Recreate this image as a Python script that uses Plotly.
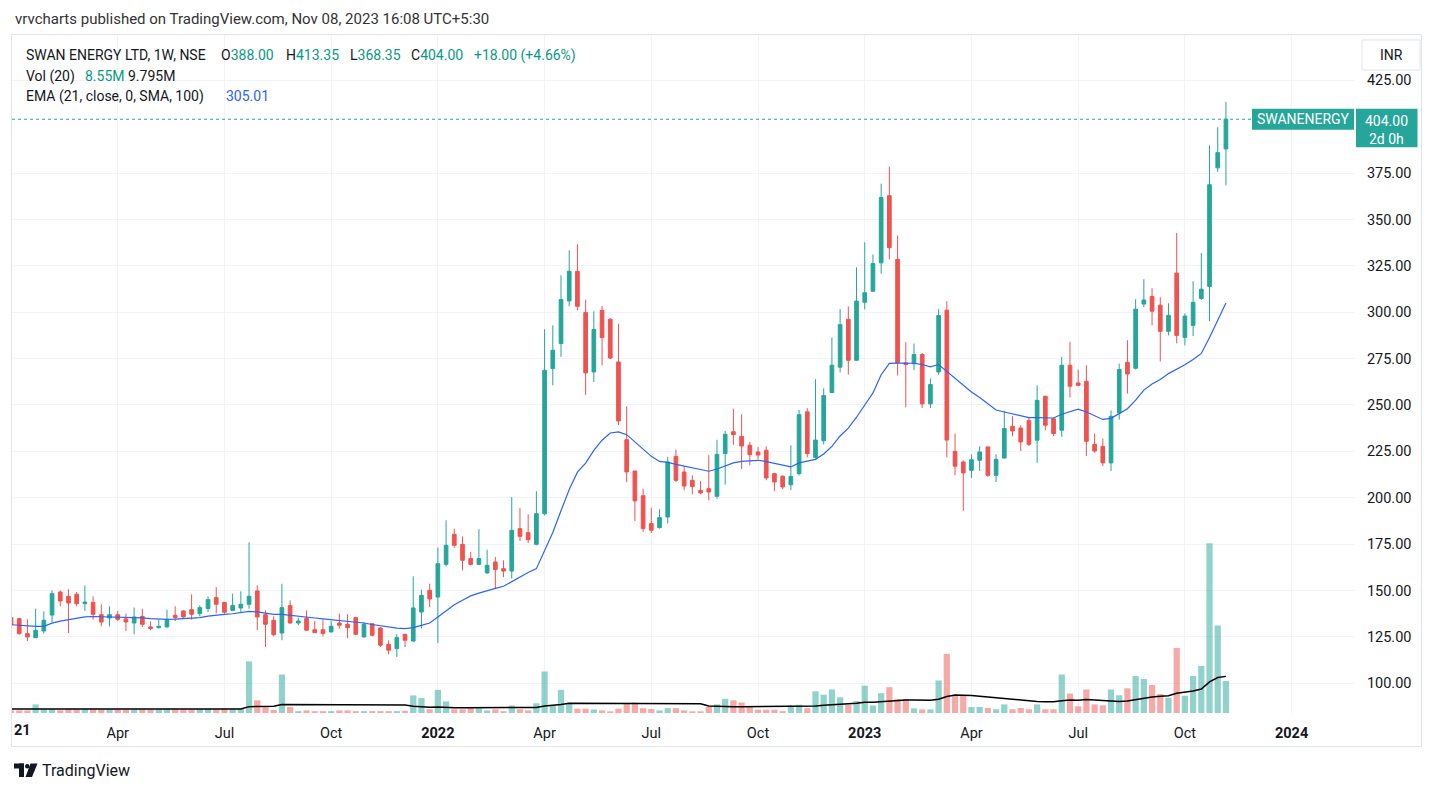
import pandas as pd
import plotly.graph_objects as go

# ------------------------------------------------------------------ data
opens = [135.5, 134.85, 126.8, 124.6, 128.2, 136.8, 149.2, 146.9, 148.0, 142.9,
         143.65, 137.0, 135.2, 137.0, 134.7, 132.5, 136.1, 130.4, 130.0, 130.4,
         136.65, 139.0, 139.7, 137.55, 140.3, 146.2, 143.65, 139.3, 140.6, 142.6,
         149.8, 137.0, 133.95, 127.1, 141.85, 132.5, 135.0, 128.9, 128.9, 127.7,
         132.5, 131.8, 135.4, 125.0, 132.1, 129.8, 121.0, 118.7, 126.4, 122.8,
         138.4, 150.1, 146.5, 164.1, 180.3, 174.9, 167.2, 164.1, 159.5, 165.4,
         161.8, 160.5, 183.35, 181.2, 174.9, 191.4, 269.6, 283.1, 306.1, 322.05,
         299.8, 267.8, 301.0, 296.2, 273.2, 231.3, 214.4, 201.1, 186.1, 183.9,
         189.65, 222.3, 213.9, 209.4, 204.0, 204.9, 200.8, 223.8, 235.6, 233.1,
         228.3, 224.7, 225.6, 213.0, 211.6, 207.0, 213.0, 246.3, 221.8, 230.7,
         256.7, 270.4, 296.2, 274.1, 305.4, 311.3, 326.6, 362.8, 328.5, 272.7,
         272.2, 277.2, 250.6, 267.8, 301.1, 225.0, 219.3, 214.8, 220.2, 227.4,
         212.1, 221.4, 238.5, 237.6, 241.7, 231.0, 254.7, 242.6, 236.4, 271.4,
         261.9, 262.8, 228.8, 227.7, 218.8, 245.7, 273.0, 269.8, 304.4, 308.5,
         303.8, 289.7, 321.1, 286.4, 292.9, 307.4, 313.9, 377.8, 388.0]
highs = [136.2, 135.3, 134.5, 140.2, 138.8, 150.1, 150.1, 150.7, 149.2, 152.8,
         146.9, 142.6, 141.5, 139.0, 137.55, 140.8, 140.2, 133.4, 134.3, 139.7,
         141.5, 139.3, 148.0, 142.0, 146.9, 151.8, 143.8, 148.3, 149.6, 176.0,
         152.8, 139.3, 136.1, 153.7, 144.7, 135.4, 139.3, 133.6, 134.3, 133.6,
         137.55, 137.2, 135.75, 133.0, 132.5, 130.4, 123.2, 126.4, 126.6, 157.6,
         150.5, 153.7, 173.1, 187.85, 183.35, 179.2, 170.8, 183.0, 172.0, 168.1,
         166.3, 200.4, 194.5, 191.1, 203.5, 290.8, 292.9, 319.9, 333.4, 336.6,
         306.8, 300.5, 303.4, 296.8, 293.8, 249.3, 214.6, 204.9, 194.7, 193.8,
         222.0, 225.9, 217.0, 212.1, 209.1, 222.9, 231.3, 236.0, 248.0, 245.0,
         230.1, 227.4, 227.7, 213.4, 212.1, 228.3, 247.3, 248.3, 263.9, 259.0,
         286.4, 301.7, 303.1, 324.2, 337.7, 331.1, 369.3, 378.5, 341.3, 283.9,
         283.1, 278.0, 264.3, 301.7, 306.0, 234.6, 220.2, 223.4, 227.7, 227.7,
         223.4, 246.8, 243.9, 239.1, 243.5, 260.6, 254.9, 243.0, 275.9, 284.0,
         269.1, 271.4, 234.6, 231.9, 247.1, 272.3, 284.9, 307.0, 317.8, 312.9,
         308.1, 304.8, 342.7, 299.4, 316.7, 331.9, 389.9, 399.7, 413.35]
lows = [130.8, 126.2, 122.8, 124.3, 126.8, 133.0, 141.5, 127.1, 141.5, 139.0,
        134.3, 130.7, 130.7, 133.6, 128.2, 126.4, 130.3, 128.6, 129.6, 130.0,
        133.6, 135.3, 134.3, 136.1, 138.4, 137.7, 137.5, 139.0, 138.4, 140.2,
        128.6, 119.6, 125.3, 123.2, 132.1, 131.3, 128.4, 127.1, 125.3, 127.5,
        129.5, 124.4, 125.9, 124.6, 125.3, 119.6, 115.6, 114.2, 119.6, 122.3,
        129.5, 141.1, 121.7, 163.1, 173.1, 160.9, 163.6, 163.9, 159.1, 151.0,
        157.3, 156.4, 176.7, 175.6, 174.4, 190.5, 260.6, 275.9, 303.2, 301.0,
        255.4, 262.4, 271.4, 274.8, 239.2, 208.5, 187.5, 181.6, 181.0, 183.4,
        186.1, 208.5, 204.0, 201.9, 201.9, 198.6, 199.5, 207.1, 228.6, 215.5,
        217.5, 220.7, 209.4, 203.5, 204.6, 204.1, 212.05, 221.8, 221.2, 228.7,
        256.5, 267.5, 266.3, 273.8, 301.5, 311.0, 320.7, 328.5, 265.9, 248.7,
        268.8, 248.3, 248.3, 266.3, 221.8, 212.1, 192.9, 210.7, 214.4, 211.2,
        208.5, 221.1, 233.1, 225.2, 227.9, 218.8, 236.4, 233.1, 232.8, 254.0,
        260.1, 222.5, 224.3, 217.1, 214.4, 242.1, 256.1, 269.1, 302.7, 292.9,
        273.4, 287.5, 283.2, 282.1, 287.1, 306.6, 295.1, 375.6, 368.35]
closes = [131.5, 126.8, 125.0, 128.6, 134.0, 148.3, 144.4, 143.3, 142.9, 143.8,
          137.2, 133.05, 137.0, 134.5, 133.05, 135.75, 131.8, 129.5, 130.7, 134.0,
          135.4, 135.75, 137.2, 140.8, 145.1, 142.6, 138.3, 142.0, 142.6, 146.9,
          135.75, 131.8, 126.2, 140.8, 132.5, 133.6, 128.6, 127.3, 126.8, 130.7,
          131.3, 130.0, 126.4, 131.8, 125.9, 120.5, 117.8, 124.6, 123.2, 140.6,
          147.4, 145.4, 164.5, 174.4, 174.4, 166.3, 164.1, 167.2, 163.6, 161.3,
          160.5, 182.45, 179.2, 177.4, 191.4, 268.7, 279.5, 306.8, 322.05, 303.2,
          267.3, 290.7, 286.3, 275.3, 241.4, 213.9, 198.3, 183.4, 182.5, 189.3,
          219.3, 209.4, 206.3, 206.0, 202.6, 203.1, 223.4, 234.2, 234.0, 227.9,
          223.2, 223.0, 210.7, 208.5, 205.8, 211.5, 244.8, 223.8, 231.1, 255.1,
          271.4, 293.3, 274.1, 306.0, 310.5, 326.2, 361.8, 334.8, 272.7, 271.8,
          277.2, 250.6, 261.0, 298.2, 231.1, 217.0, 213.4, 220.5, 224.7, 212.1,
          220.7, 237.3, 236.0, 230.1, 228.8, 252.5, 239.1, 234.6, 271.4, 260.1,
          260.6, 230.4, 225.2, 218.8, 243.9, 269.1, 266.7, 301.6, 306.6, 300.5,
          289.7, 298.3, 287.5, 297.9, 305.3, 312.4, 368.7, 386.0, 404.0]
volumes_m = [0.7, 0.7, 0.7, 2.3, 1.0, 1.0, 0.75, 1.0, 1.0, 1.0,
             1.0, 0.95, 1.0, 0.9, 0.95, 1.0, 0.95, 0.85, 0.9, 1.0,
             0.95, 0.9, 0.95, 1.1, 1.1, 1.0, 1.15, 1.15, 1.15, 13.8,
             3.4, 1.7, 0.8, 10.3, 1.6, 0.5, 0.7, 0.5, 0.5, 0.5,
             0.7, 0.7, 0.5, 0.5, 0.5, 0.5, 0.5, 0.5, 0.6, 4.7,
             4.0, 1.0, 6.2, 3.1, 1.0, 1.0, 1.3, 1.3, 0.7, 1.0,
             0.5, 2.0, 1.0, 0.7, 2.6, 11.1, 2.05, 6.2, 2.7, 1.16,
             1.16, 0.95, 0.7, 0.45, 1.16, 2.5, 2.8, 1.3, 1.07, 0.7,
             1.3, 1.3, 0.7, 0.45, 0.45, 1.6, 2.3, 3.8, 3.4, 2.8,
             1.6, 0.9, 0.9, 0.9, 0.5, 2.0, 2.2, 1.26, 5.8, 4.9,
             6.3, 4.2, 2.2, 3.2, 7.3, 2.0, 5.3, 6.9, 3.7, 3.7,
             1.26, 0.97, 0.97, 8.7, 15.8, 4.8, 4.7, 1.6, 1.6, 1.34,
             1.0, 2.3, 1.0, 1.34, 1.0, 2.3, 1.0, 1.0, 10.3, 5.2,
             1.8, 6.3, 2.3, 2.05, 6.3, 4.75, 6.6, 9.9, 9.1, 7.5,
             5.05, 4.1, 17.4, 4.6, 9.9, 12.6, 45.4, 23.4, 8.55]
vol_ma20_m = [1.05, 1.05, 1.05, 1.05, 1.05, 1.05, 1.05, 1.05, 1.05, 1.05,
              1.05, 1.05, 1.05, 1.05, 1.05, 1.05, 1.05, 1.05, 1.05, 1.05,
              1.05, 1.05, 1.05, 1.05, 1.05, 1.05, 1.05, 1.05, 1.05, 1.7,
              1.8, 1.8, 1.8, 2.25, 2.25, 2.2, 2.2, 2.2, 2.2, 2.2,
              2.2, 2.15, 2.15, 2.15, 2.15, 2.15, 2.15, 2.15, 2.15, 1.8,
              1.6, 1.55, 1.6, 1.4, 1.4, 1.4, 1.4, 1.4, 1.4, 1.4,
              1.4, 1.45, 1.45, 1.45, 1.5, 1.9, 2.0, 2.3, 2.6, 2.6,
              2.6, 2.6, 2.55, 2.55, 2.55, 2.5, 2.5, 2.5, 2.5, 2.5,
              2.5, 2.5, 2.45, 2.45, 2.45, 1.9, 1.8, 1.75, 1.7, 1.7,
              1.7, 1.7, 1.7, 1.7, 1.7, 1.7, 1.75, 1.75, 1.9, 2.1,
              2.3, 2.4, 2.5, 2.6, 2.9, 2.9, 3.1, 3.3, 3.4, 3.5,
              3.5, 3.4, 3.4, 3.7, 4.4, 4.8, 4.8, 4.7, 4.5, 4.3,
              4.0, 3.8, 3.5, 3.3, 3.2, 3.1, 3.0, 3.0, 3.3, 3.5,
              3.4, 3.6, 3.5, 3.3, 3.1, 3.1, 3.2, 3.6, 4.0, 4.3,
              4.5, 4.6, 5.3, 5.5, 5.9, 6.4, 8.3, 9.5, 9.795]
ema21 = [131.6, 131.2, 130.8, 130.7, 130.7, 132.4, 133.5, 134.4, 135.1, 135.8,
         136.0, 135.9, 135.9, 135.8, 135.6, 135.5, 135.3, 134.9, 134.6, 134.5,
         134.6, 134.8, 135.0, 135.4, 136.2, 136.8, 137.1, 137.5, 138.0, 138.8,
         138.5, 137.9, 137.2, 137.2, 136.8, 136.3, 135.7, 135.2, 134.7, 134.3,
         134.0, 133.6, 133.1, 132.5, 131.7, 130.9, 130.1, 129.7, 129.5, 130.0,
         131.2, 132.5, 135.7, 139.2, 142.3, 144.8, 147.1, 148.6, 150.1, 151.2,
         152.3, 154.8, 157.5, 159.7, 161.8, 171.5, 181.3, 193.0, 204.5, 213.8,
         218.7, 225.5, 231.0, 234.9, 235.5, 234.0, 230.1, 226.0, 222.3, 219.6,
         219.1, 218.0, 217.0, 215.9, 215.0, 214.3, 215.5, 217.3, 218.8, 219.6,
         220.0, 220.2, 219.5, 218.4, 217.3, 216.6, 218.8, 219.7, 220.7, 223.6,
         227.7, 233.3, 237.5, 243.4, 249.8, 256.5, 266.3, 272.4, 272.6, 272.7,
         272.5, 271.8, 270.6, 271.8, 268.0, 264.3, 260.5, 257.0, 254.0, 250.5,
         247.3, 246.2, 245.3, 244.3, 243.2, 243.2, 243.0, 243.0, 245.0, 246.6,
         247.8, 246.2, 244.2, 242.2, 242.8, 245.2, 248.0, 252.6, 258.0, 261.3,
         263.7, 266.9, 269.1, 271.7, 274.5, 277.8, 286.4, 296.0, 305.01]

week_start = "2021-01-04"
dates = pd.date_range(week_start, periods=len(closes), freq="7D")

time_tick_dates = ["2021-04-05", "2021-07-05", "2021-10-04", "2022-01-03",
                   "2022-04-04", "2022-07-04", "2022-10-03", "2023-01-02",
                   "2023-04-03", "2023-07-03", "2023-10-02", "2024-01-01"]
time_tick_labels = ["Apr", "Jul", "Oct", "<b>2022</b>", "Apr", "Jul", "Oct",
                    "<b>2023</b>", "Apr", "Jul", "Oct", "<b>2024</b>"]
price_ticks = [100, 125, 150, 175, 200, 225, 250, 275, 300, 325, 350, 375, 425]

symbol = "SWANENERGY"
title_left = "SWAN ENERGY LTD, 1W, NSE"
publisher = "vrvcharts published on TradingView.com, Nov 08, 2023 16:08 UTC+5:30"

# ------------------------------------------------------------------ style
UP = "#26a69a"
DN = "#ef5350"
UP_A = "rgba(38,166,154,0.5)"
DN_A = "rgba(239,83,80,0.5)"
TXT = "#131722"
GRID = "#f0f3fa"
FONT = "Roboto, sans-serif"

W, H = 1436, 792
PX_L, PX_R, PX_T, PX_B = 12, 1355, 35, 713


def px(x):
    return (x - PX_L) / (PX_R - PX_L)


def py(y):
    return (PX_B - y) / (PX_B - PX_T)


vol_colors = [UP_A if c >= o else DN_A for o, c in zip(opens, closes)]
week_ms = 7 * 24 * 3600 * 1000

fig = go.Figure()
fig.add_trace(go.Candlestick(
    x=dates, open=opens, high=highs, low=lows, close=closes,
    increasing=dict(line=dict(color=UP, width=1), fillcolor=UP),
    decreasing=dict(line=dict(color=DN, width=1), fillcolor=DN),
    whiskerwidth=0, hoverinfo="skip", showlegend=False))
fig.add_trace(go.Scatter(x=dates, y=ema21, mode="lines",
                         line=dict(color="#2962ff", width=1.2),
                         hoverinfo="skip", showlegend=False))
fig.add_trace(go.Bar(x=dates, y=volumes_m, yaxis="y2", marker_color=vol_colors,
                     marker_line_width=0, width=0.76 * week_ms,
                     hoverinfo="skip", showlegend=False))
fig.add_trace(go.Scatter(x=dates, y=vol_ma20_m, yaxis="y2", mode="lines",
                         line=dict(color="#000000", width=1.5),
                         hoverinfo="skip", showlegend=False))

fig.update_layout(
    width=W, height=H,
    margin=dict(l=PX_L, r=W - PX_R, t=PX_T, b=H - PX_B, pad=0),
    paper_bgcolor="white", plot_bgcolor="white",
    font=dict(family=FONT, color=TXT, size=14),
    hovermode=False, showlegend=False, boxgap=0.36,
    xaxis=dict(
        type="date",
        range=["2021-01-04 20:28", "2024-02-24 01:12"],
        tickmode="array", tickvals=time_tick_dates, ticktext=time_tick_labels,
        showgrid=True, gridcolor=GRID, gridwidth=1, zeroline=False,
        showline=False, ticks="outside", ticklen=7,
        tickcolor="rgba(0,0,0,0)", tickfont=dict(size=14.5, color=TXT),
        rangeslider=dict(visible=False), fixedrange=True),
    yaxis=dict(
        side="right", range=[84.0, 449.4],
        tickmode="array", tickvals=price_ticks,
        ticktext=[f"{v:.2f}" for v in price_ticks],
        showgrid=True, gridcolor=GRID, gridwidth=1, zeroline=False,
        showline=False, ticks="outside", ticklen=8,
        tickcolor="rgba(0,0,0,0)", tickfont=dict(size=14.5, color=TXT),
        fixedrange=True),
    yaxis2=dict(overlaying="y", range=[0, 181.3], visible=False,
                fixedrange=True),
)

shapes = []
# chart frame
shapes.append(dict(type="rect", xref="paper", yref="paper",
                   x0=px(11.5), x1=px(1421.5), y0=py(746.5), y1=py(34.5),
                   line=dict(color="#e0e3eb", width=1), fillcolor="rgba(0,0,0,0)",
                   layer="below"))
# last price dotted line
shapes.append(dict(type="line", xref="paper", yref="y", x0=0, x1=px(1252),
                   y0=closes[-1], y1=closes[-1],
                   line=dict(color=UP, width=1, dash="dot")))
# price label boxes
shapes.append(dict(type="rect", xref="paper", yref="paper",
                   x0=px(1252), x1=px(1354), y0=py(129.7), y1=py(108.7),
                   fillcolor=UP, line=dict(width=0), layer="above"))
shapes.append(dict(type="rect", xref="paper", yref="paper",
                   x0=px(1356), x1=px(1417.5), y0=py(147.3), y1=py(108.7),
                   fillcolor=UP, line=dict(width=0), layer="above"))
# INR box
shapes.append(dict(type="rect", xref="paper", yref="paper",
                   x0=px(1362), x1=px(1420), y0=py(70), y1=py(40),
                   fillcolor="white", line=dict(color="#e0e3eb", width=1),
                   layer="above"))
# TradingView logo
shapes.append(dict(type="rect", xref="paper", yref="paper",
                   x0=px(14), x1=px(24), y0=py(768.5), y1=py(763.5),
                   fillcolor=TXT, line=dict(width=0)))
shapes.append(dict(type="rect", xref="paper", yref="paper",
                   x0=px(19), x1=px(24), y0=py(777), y1=py(763.5),
                   fillcolor=TXT, line=dict(width=0)))
shapes.append(dict(type="circle", xref="paper", yref="paper",
                   x0=px(25), x1=px(29.5), y0=py(768.5), y1=py(764),
                   fillcolor=TXT, line=dict(width=0)))
shapes.append(dict(type="path", xref="paper", yref="paper",
                   path=(f"M {px(30.5)},{py(763.5)} L {px(37.5)},{py(763.5)} "
                         f"L {px(32)},{py(777)} L {px(25.5)},{py(777)} Z"),
                   fillcolor=TXT, line=dict(width=0)))
fig.update_layout(shapes=shapes)

G = "#089981"
BLUE = "#2962ff"


def ann(text, x, y, size=14, color=TXT, xanchor="left"):
    return dict(text=text, xref="paper", yref="paper", x=px(x), y=py(y),
                xanchor=xanchor, yanchor="middle", showarrow=False,
                font=dict(family=FONT, size=size, color=color))


chg = closes[-1] - closes[-2]
pct = chg / closes[-2] * 100
sp = lambda v, c: f"<span style='color:{c}'>{v}</span>"
annotations = [
    ann(publisher, 13, 19, size=15, color="#333333"),
    ann(title_left, 23.5, 55.5),
    ann("O" + sp(f"{opens[-1]:.2f}", G), 218.5, 55.5),
    ann("H" + sp(f"{highs[-1]:.2f}", G), 283.5, 55.5),
    ann("L" + sp(f"{lows[-1]:.2f}", G), 348, 55.5),
    ann("C" + sp(f"{closes[-1]:.2f}", G), 409, 55.5),
    ann(f"{chg:+.2f} ({pct:+.2f}%)", 472, 55.5, color=G),
    ann("Vol (20)", 23.5, 76),
    ann(f"{volumes_m[-1]:.2f}M", 83, 76, color=G),
    ann(f"{vol_ma20_m[-1]:.3f}M", 126, 76),
    ann("EMA (21, close, 0, SMA, 100)", 23.5, 96.5),
    ann(f"{ema21[-1]:.2f}", 224, 96.5, color=BLUE),
    ann("INR", 1391, 55, xanchor="center"),
    ann(symbol, 1303, 119.5, color="white", xanchor="center"),
    ann(f"{closes[-1]:.2f}", 1386.7, 120.5, color="white", xanchor="center"),
    ann("2d 0h", 1386.7, 139, color="white", xanchor="center"),
    ann("<b>21</b>", 11.5, 730, size=14.5),
    ann("TradingView", 40, 770.5, size=16),
]
fig.update_layout(annotations=annotations)

fig.write_html("out.html", config={"displayModeBar": False, "staticPlot": True})
